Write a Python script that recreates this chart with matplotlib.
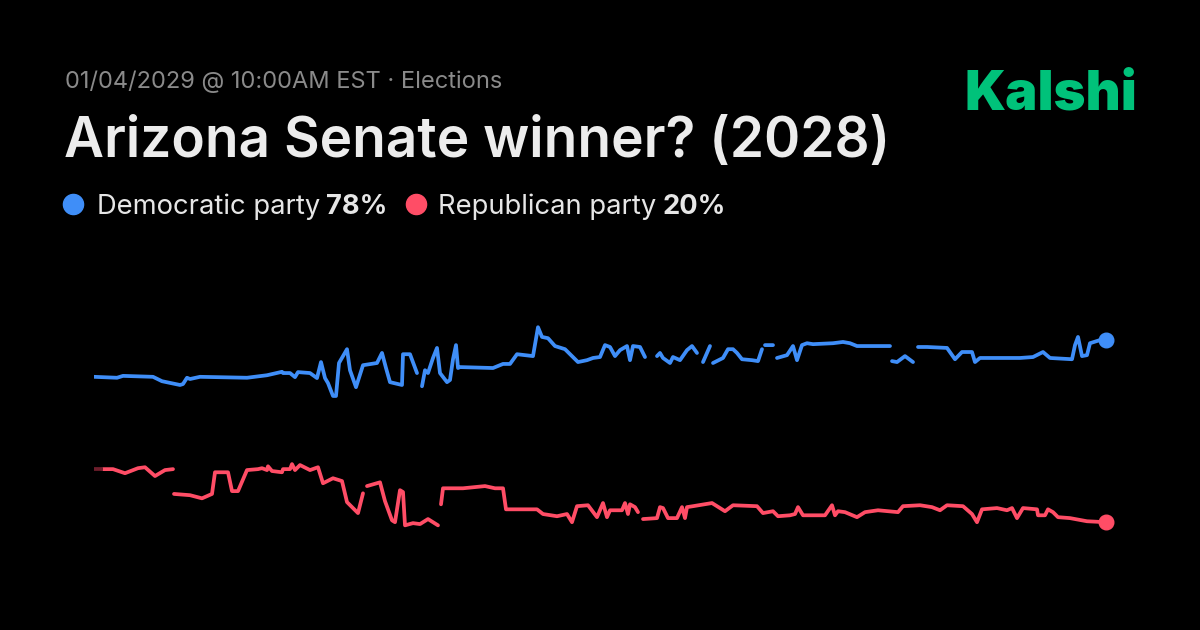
import numpy as np
import matplotlib.pyplot as plt
from matplotlib.lines import Line2D

nan = np.nan

# Данные (время в условных единицах, значения в %)
dem_t = [0, 23, 29, 59, 68, 86, 89, 93, 96, 106, 153, 173, 188, 189, 196, 201, 204, 216,
         223, 227, 231, 234, 239, 242, 245, 253, 256, 262, 269, 283, 288, 292, 296, 308,
         309, 316, 323, 325, 328, 331, 334, 339, 343, 346, 353, 356, 359, 362, 364, 366,
         399, 409, 416, 423, 439, 444, 448, 454, 461, 471, 484, 493, 499, 506, 511, 516,
         521, 526, 533, 536, 539, 546, 551, 552, 563, 566, 569, 576, 579, 586, 593, 598,
         603, 606, 609, 616, 617, 619, 629, 634, 639, 643, 648, 658, 664, 668, 669, 671,
         679, 681, 683, 693, 699, 703, 708, 713, 719, 739, 749, 756, 763, 796, 797, 798,
         803, 811, 819, 821, 824, 833, 853, 861, 868, 878, 881, 886, 926, 939, 949, 956,
         978, 981, 984, 988, 993, 996, 1006, 1012]
dem_v = [66.3, 66.0, 66.6, 66.3, 64.9, 63.7, 64.0, 66.0, 65.6, 66.3, 66.0, 66.8, 67.9, 67.5,
         67.5, 66.2, 67.8, 67.5, 65.9, 71.0, 65.9, 64.3, 60.2, 60.2, 70.7, 75.1, 68.4, 63.0,
         70.0, 70.7, 73.9, 69.1, 64.6, 63.7, 73.5, 73.5, 67.5, nan, 63.3, 68.4, 67.5, 72.3,
         75.5, 67.5, 64.6, 65.3, 71.9, 76.4, 69.1, 69.4, 69.1, 70.4, 70.4, 73.5, 72.9, 82.1,
         79.0, 78.6, 76.1, 75.1, 71.0, 71.6, 72.3, 72.6, 76.4, 75.8, 72.9, 74.8, 76.1, 71.6,
         76.1, 75.8, 72.6, nan, 72.9, 73.9, 72.3, 70.7, 72.6, 71.6, 74.8, 76.1, 73.9, nan,
         71.0, 76.1, nan, 70.7, 72.3, 75.1, 75.1, 73.9, 71.9, 71.6, 71.3, 75.1, nan, 76.4,
         76.4, nan, 72.3, 73.2, 76.1, 71.6, 76.4, 77.0, 76.7, 77.0, 77.4, 77.0, 76.1, 76.1,
         nan, 71.3, 71.0, 72.9, 71.0, nan, 75.8, 75.8, 75.5, 71.9, 74.2, 74.2, 71.0, 72.3,
         72.3, 72.6, 74.2, 72.3, 71.9, 76.4, 79.0, 72.9, 73.2, 77.0, 78.0, 78.0]

rep_t = [9, 19, 31, 44, 51, 61, 71, 79, 79.5, 80, 96, 108, 118, 121, 134, 138, 144, 153,
         164, 168, 173, 174, 178, 188, 189, 196, 198, 201, 206, 216, 224, 229, 239, 248,
         253, 259, 264, 269, 271, 273, 286, 291, 298, 301, 306, 309, 311, 319, 326, 334,
         339, 344, 345, 347, 349, 369, 391, 401, 409, 412, 443, 449, 463, 473, 478, 483,
         494, 503, 509, 513, 516, 528, 531, 534, 536, 541, 544, 546, 549, 563, 566, 569,
         574, 583, 588, 591, 593, 599, 618, 631, 639, 663, 669, 679, 684, 696, 701, 704,
         709, 731, 738, 741, 744, 751, 763, 771, 784, 804, 809, 826, 838, 846, 853, 869,
         878, 883, 888, 903, 913, 918, 923, 929, 943, 944, 951, 954, 959, 964, 976, 993,
         1012]
rep_v = [36.9, 36.9, 35.6, 37.2, 37.5, 34.7, 36.6, 36.9, nan, 29.0, 28.6, 27.6, 29.0, 35.9,
         35.9, 29.9, 29.9, 36.6, 36.9, 37.2, 36.6, 37.8, 36.3, 35.9, 36.9, 36.9, 38.5, 36.6,
         38.2, 36.6, 37.5, 32.4, 34.0, 33.1, 26.4, 24.5, 22.9, 29.2, nan, 31.5, 32.7, 26.7,
         20.6, 20.0, 30.2, 29.6, 19.0, 19.7, 19.4, 21.0, 20.0, 19.0, nan, 25.7, 30.8, 30.8,
         31.5, 30.8, 30.8, 24.1, 24.1, 22.6, 21.9, 22.6, 20.0, 25.1, 25.4, 21.6, 26.1, 21.6,
         23.8, 23.8, 26.1, 22.6, 25.7, 24.8, 23.2, nan, 21.0, 21.3, 24.8, 24.5, 21.3, 21.3,
         24.8, 21.3, 24.8, 25.1, 26.1, 23.5, 25.4, 25.1, 22.9, 23.5, 21.9, 22.2, 22.6, 24.8,
         22.2, 22.2, 25.4, 22.2, 23.5, 23.2, 21.6, 23.2, 23.8, 23.2, 25.1, 25.4, 24.8, 23.8,
         25.4, 25.1, 22.6, 20.0, 24.1, 24.5, 23.8, 24.5, 21.3, 24.5, 24.1, 22.2, 22.2, 24.1,
         23.2, 21.6, 21.3, 20.3, 20.0]
rep_start_t = [0, 9]
rep_start_v = [36.9, 36.9]

names = ['Democratic party', 'Republican party']
last = ['78%', '20%']

BLUE = '#3f8ef8'
RED = '#ff4d66'
W, H = 1200, 630

fig = plt.figure(figsize=(12, 6.3), dpi=100, facecolor='black')
ax = fig.add_axes([94 / W, 1 - 585 / H, 1012 / W, 314 / H])
ax.set_facecolor('black')
ax.set_xlim(0, 1012)
ax.set_ylim(0, 100)
ax.axis('off')

# Линии
lw = 2.7
ax.plot(dem_t, dem_v, color=BLUE, lw=lw, solid_joinstyle='round', solid_capstyle='round')
ax.plot(rep_t, rep_v, color=RED, lw=lw, solid_joinstyle='round', solid_capstyle='round')
ax.plot(rep_start_t, rep_start_v, color='#6e1e2c', lw=lw, solid_capstyle='butt')

# Точки на концах
ax.plot(dem_t[-1], dem_v[-1], 'o', color=BLUE, ms=10.5, clip_on=False)
ax.plot(rep_t[-1], rep_v[-1], 'o', color=RED, ms=10.5, clip_on=False)

# Тексты
fig.text(65 / W, 1 - 88 / H, '01/04/2029 @ 10:00AM EST · Elections', family='Inter',
         fontsize=17, color='#8a8a8a', va='baseline')
fig.text(64 / W, 1 - 157 / H, 'Arizona Senate winner? (2028)', family='Inter',
         fontsize=39.6, fontweight='semibold', color='#ececec', va='baseline')
fig.text(1137 / W, 1 - 110 / H, 'Kalshi', family='Inter', fontsize=39,
         fontweight='black', color='#00c27a', va='baseline', ha='right')

# Легенда
dot_x = [73, 416]
text_x = [97, 438]
yb = 1 - 214 / H
for n, v, c, dx, tx in zip(names, last, [BLUE, RED], dot_x, text_x):
    fig.add_artist(Line2D([dx / W], [1 - 204 / H], marker='o', ms=14.5, color=c,
                          lw=0, transform=fig.transFigure))
    t1 = fig.text(tx / W, yb, n, family='Inter', fontsize=19.7, color='#e6e6e6',
                  va='baseline')
    ax.annotate(v, xy=(1, 0), xycoords=t1, xytext=(6, 0),
                textcoords='offset pixels', family='Inter', fontsize=19.7,
                fontweight='bold', color='#e6e6e6', va='bottom')

plt.savefig('out.png', dpi=100, facecolor='black')
